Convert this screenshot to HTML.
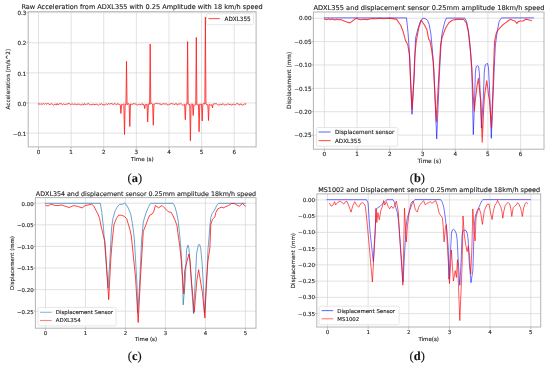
<!DOCTYPE html>
<html><head><meta charset="utf-8"><title>Figure</title>
<style>
html,body{margin:0;padding:0;background:#fff;}
body{width:550px;height:365px;overflow:hidden;}
svg{display:block;filter:blur(0.3px);}
svg text{text-rendering:geometricPrecision;font-family:"DejaVu Sans", "Liberation Sans", sans-serif;fill:#222222;stroke:#222222;stroke-width:0.12px;}
svg text.pl{font-family:"Liberation Serif","DejaVu Serif",serif;font-size:12.4px;fill:#111;}
</style></head><body>
<svg width="550" height="365" viewBox="0 0 550 365">
<rect width="550" height="365" fill="#fff"/>
<path d="M38.5 11.7V146.9M71.12 11.7V146.9M103.73 11.7V146.9M136.35 11.7V146.9M168.97 11.7V146.9M201.58 11.7V146.9M234.2 11.7V146.9M28.2 12.7H256.1M28.2 42.8H256.1M28.2 72.9H256.1M28.2 103H256.1M28.2 133.1H256.1" stroke="#d6d6d6" stroke-width="0.7" fill="none"/>
<path d="M38.3 104 39.2 103.71 40.1 104.56 41 103.57 41.9 104.36 42.8 104.07 43.7 103.55 44.6 104.31 45.5 103.51 46.4 104.19 47.3 103.57 48.2 103.6 49.1 104.17 50 104.86 50.9 103.66 51.8 103.83 52.7 104.52 53.6 105.06 54.5 104.43 55.4 104.12 56.3 105.11 57.2 103.53 58.1 104.91 59 103.94 59.9 103.7 60.8 103.65 61.7 103.97 62.6 104.84 63.5 103.76 64.4 104.44 65.3 104.54 66.2 104.08 67.1 104.38 68 103.56 68.9 103.55 69.8 103.8 70.7 104.61 71.6 104.18 72.5 103.98 73.4 104.45 74.3 104.22 75.2 103.96 76.1 104.8 77 104.64 77.9 103.86 78.8 104.43 79.7 104.34 80.6 104.94 81.5 104.69 82.4 103.94 83.3 105.12 84.2 103.65 85.1 104.16 86 104.74 86.9 103.71 87.8 104.28 88.7 103.52 89.6 104.59 90.5 104.75 91.4 104.42 92.3 104.94 93.2 103.98 94.1 104.63 95 104.46 95.9 104.44 96.8 104.23 97.7 104.88 98.6 105.06 99.5 104.26 100.4 104.58 101.3 103.55 102.2 104.64 103.1 104.55 104 105.14 104.9 104.85 105.8 103.93 106.7 104.11 107.6 104.59 108.5 103.49 109.4 104.23 110.3 103.74 111.2 103.65 112.1 103.55 113 104.76 113.9 103.67 114.8 103.87 115.7 104.11 116.6 104.93 117.5 103.59 118.4 104.21 119.3 104.38 120.25 104.68 120.9 113.5 121.55 104.62 122.35 104.92 123.25 103.92 123.85 104.22 124.5 134.5 125.15 104.16 125.95 104.68 126.5 61.4 127.05 104.76 127.85 103.71 128.75 103.75 129.15 104.03 129.8 126.5 130.45 104.03 131.25 104.27 132.15 104.45 133.05 103.9 133.95 103.46 134.85 104.16 135.75 104.08 136.65 104.41 137.55 105.07 138.45 104.62 139.35 104.33 140.25 104.5 141.15 104.6 142.05 103.54 142.95 104.98 144.05 104.58 144.7 108.6 145.35 104.67 146.15 104.81 147.05 104.19 147.7 121.9 148.35 104.2 149.15 103.63 149.65 104.43 150.2 44 150.75 103.86 151.55 103.56 152.65 104.01 153.3 125.2 153.95 103.96 154.75 104.03 155.65 103.54 156.55 103.45 157.45 103.71 158.35 103.62 159.25 104.07 160.15 103.49 161.05 104.94 161.95 104.49 162.85 103.7 163.75 103.88 164.65 104.04 165.55 104.07 166.45 103.66 167.35 104.89 168.25 105.14 169.15 104.24 170.05 104.27 170.95 103.6 171.85 103.62 172.75 104.03 173.65 103.9 174.55 104.86 175.45 103.72 176.35 103.49 177.25 105.07 178.15 104.35 179.05 103.7 179.95 104.37 180.85 103.5 181.75 104.35 182.65 105.11 183.55 104.92 184.65 104.5 185.3 119.7 185.95 104.06 187.05 104.17 187.6 41.5 188.15 103.97 188.95 104.76 189.75 104.33 190.4 140.8 191.05 104.58 191.85 104.01 192.55 104.02 193.2 115.5 193.85 104.61 194.65 105.12 195.75 104.65 196.3 37.4 196.85 104.61 197.65 104.84 198.45 104.54 199.1 131.7 199.75 104.03 200.55 104.33 201.55 104.16 202.2 120.9 202.85 103.83 203.65 103.5 204.85 104.08 205.4 17.1 205.95 104.06 206.75 104.63 207.85 104.76 208.5 120.5 209.15 104.25 209.95 105.04 210.85 105.13 211.9 104.76 212.5 107.8 213.1 104.16 213.9 103.82 214.8 103.84 215.7 103.78 216.6 103.8 217.5 104.51 218.4 104.98 219.3 104.88 220.2 104.27 221.1 104.56 222 104.81 222.9 103.59 223.8 104.57 224.7 105 225.6 104.78 226.5 104.73 227.4 104.26 228.3 103.75 229.2 104.79 230.1 104.02 231 104.81 231.9 105.1 232.8 104.12 233.7 104.13 234.6 105.06 235.5 104.68 236.4 103.74 237.3 103.67 238.2 103.71 239.1 104.99 240 104.82 240.9 103.7 241.8 104.86 242.7 105.12 243.6 104.57 244.5 104.05 245.4 104.38 245.6 103.6" stroke="#ff2020" stroke-width="0.95" fill="none" stroke-linejoin="round" stroke-linecap="round" opacity="0.9"/>
<path d="M38.5 146.9v1.8M71.12 146.9v1.8M103.73 146.9v1.8M136.35 146.9v1.8M168.97 146.9v1.8M201.58 146.9v1.8M234.2 146.9v1.8M28.2 12.7h-1.8M28.2 42.8h-1.8M28.2 72.9h-1.8M28.2 103h-1.8M28.2 133.1h-1.8" stroke="#8a8a8a" stroke-width="0.6" fill="none"/>
<rect x="28.2" y="11.7" width="227.9" height="135.2" fill="none" stroke="#b4b4b4" stroke-width="1"/>
<text x="38.5" y="153.9" font-size="5.6" text-anchor="middle">0</text>
<text x="71.12" y="153.9" font-size="5.6" text-anchor="middle">1</text>
<text x="103.73" y="153.9" font-size="5.6" text-anchor="middle">2</text>
<text x="136.35" y="153.9" font-size="5.6" text-anchor="middle">3</text>
<text x="168.97" y="153.9" font-size="5.6" text-anchor="middle">4</text>
<text x="201.58" y="153.9" font-size="5.6" text-anchor="middle">5</text>
<text x="234.2" y="153.9" font-size="5.6" text-anchor="middle">6</text>
<text x="26.4" y="15.33" font-size="5.6" text-anchor="end">0.3</text>
<text x="26.4" y="45.43" font-size="5.6" text-anchor="end">0.2</text>
<text x="26.4" y="75.53" font-size="5.6" text-anchor="end">0.1</text>
<text x="26.4" y="105.63" font-size="5.6" text-anchor="end">0.0</text>
<text x="26.4" y="135.73" font-size="5.6" text-anchor="end">−0.1</text>
<text x="142" y="9.2" font-size="6.55" text-anchor="middle">Raw Acceleration from ADXL355 with 0.25 Amplitude with 18 km/h speed</text>
<text x="142.4" y="161" font-size="5.55" text-anchor="middle">Time (s)</text>
<text transform="translate(9.7 79.2) rotate(-90)" font-size="5.72" text-anchor="middle">Acceleration (m/s^2)</text>
<rect x="206.6" y="13.7" width="47" height="11" rx="1.2" fill="#fff" fill-opacity="0.85" stroke="#dcdcdc" stroke-width="0.7"/>
<path d="M208.5 18.6H219.8" stroke="#ff2020" stroke-width="1.1" opacity="0.75"/>
<text x="224.5" y="20.65" font-size="5.7">ADXL355</text>
<text x="127.6" y="182.2" class="pl">(<tspan font-weight="bold">a</tspan>)</text>
<path d="M324.4 12V149.2M357.1 12V149.2M389.8 12V149.2M422.5 12V149.2M455.2 12V149.2M487.9 12V149.2M520.6 12V149.2M313.4 18.2H544M313.4 41.58H544M313.4 64.96H544M313.4 88.34H544M313.4 111.72H544M313.4 135.1H544" stroke="#d6d6d6" stroke-width="0.7" fill="none"/>
<path d="M324.4 17.9 406.5 17.9 408.1 33.4 409.8 58 412 114.3 414.4 72 415.5 38.3 418 28.5 420.5 21 422.9 18.2 425 18.5 427.5 20.2 429.1 24.3 430.8 33.4 432.4 49.9 434 72 436.7 138.9 439.5 72 441.5 36.7 443.1 28.5 444.8 21.9 446.4 18.1 464.7 18.1 466.5 21.3 468.4 30.7 469.7 41.9 470.8 54.9 471.8 68 473.3 134.6 474.6 100 475.4 72 476.2 66.5 477.6 65.8 478.6 66.5 479.5 75 481.4 128 483.2 100 484.3 72 485.2 65 486.4 64 487.6 63.5 488.5 68 489.4 85 491.3 138.3 492.8 102 494.6 60 495.4 45 497.2 31.8 499.1 21.6 501 18.3 502 17.9 533.5 17.9" stroke="#0000ff" stroke-width="0.9" fill="none" stroke-linejoin="round" stroke-linecap="round" opacity="0.65"/>
<path d="M324.4 19 326.5 19.8 328.5 18.9 330.5 19.6 332.5 19 334.5 20 336.5 19.3 338.5 19.8 340.5 19.6 343 20.4 346 21.8 349.8 22.9 352.5 21 356.4 18.1 358.5 19.2 361 19.8 364 19.3 367 19.6 370 19 373 18.5 376 18.8 380 18.3 384 18.7 389.1 18.2 393 18.6 396.6 19.4 400.7 25.2 403.2 31.8 405.6 40.8 407.8 44.9 409.4 54.8 410.5 80.6 412 109.4 413.8 80 414.7 57.3 416.3 40.8 418.8 27.6 421.3 20.2 424.6 25.2 427 30.1 428.7 39.2 430 40.8 431.6 49.9 433.2 61.4 436.3 121.7 439 72 440.6 44.9 442.3 36.7 444.8 30.1 446.4 26.8 448.9 22.7 452.2 20.2 456.3 19.4 461.2 19.4 463.7 19.5 466.5 23.2 468.4 32.5 470.3 49.3 471.7 68 473.2 95 474.3 111 475.3 100 476.3 92 477 86 478.4 78.4 479.4 88 480.2 96 480.9 100 482.2 142.2 483.6 110 484.3 98 485.3 90 486.7 80.7 487.8 88 488.6 96 489.5 100 491.5 128 492.8 92.2 494.5 41.9 496.4 32.5 497.8 30.5 500.4 27.4 502.9 24.8 505.5 22.9 508 21 510.5 19.3 513.1 20.4 515 21 516.9 23.5 518.2 21.6 520.7 21 523.3 21 525.8 19.1 528.4 19.7 531.5 20.7" stroke="#ff0000" stroke-width="1.1" fill="none" stroke-linejoin="round" stroke-linecap="round" opacity="0.75"/>
<path d="M324.4 149.2v1.8M357.1 149.2v1.8M389.8 149.2v1.8M422.5 149.2v1.8M455.2 149.2v1.8M487.9 149.2v1.8M520.6 149.2v1.8M313.4 18.2h-1.8M313.4 41.58h-1.8M313.4 64.96h-1.8M313.4 88.34h-1.8M313.4 111.72h-1.8M313.4 135.1h-1.8" stroke="#8a8a8a" stroke-width="0.6" fill="none"/>
<rect x="313.4" y="12" width="230.6" height="137.2" fill="none" stroke="#b4b4b4" stroke-width="1"/>
<text x="324.4" y="156.2" font-size="5.7" text-anchor="middle">0</text>
<text x="357.1" y="156.2" font-size="5.7" text-anchor="middle">1</text>
<text x="389.8" y="156.2" font-size="5.7" text-anchor="middle">2</text>
<text x="422.5" y="156.2" font-size="5.7" text-anchor="middle">3</text>
<text x="455.2" y="156.2" font-size="5.7" text-anchor="middle">4</text>
<text x="487.9" y="156.2" font-size="5.7" text-anchor="middle">5</text>
<text x="520.6" y="156.2" font-size="5.7" text-anchor="middle">6</text>
<text x="311.6" y="20.37" font-size="5.7" text-anchor="end">0.00</text>
<text x="311.6" y="43.75" font-size="5.7" text-anchor="end">−0.05</text>
<text x="311.6" y="67.13" font-size="5.7" text-anchor="end">−0.10</text>
<text x="311.6" y="90.51" font-size="5.7" text-anchor="end">−0.15</text>
<text x="311.6" y="113.89" font-size="5.7" text-anchor="end">−0.20</text>
<text x="311.6" y="137.27" font-size="5.7" text-anchor="end">−0.25</text>
<text x="429" y="9.5" font-size="6.65" text-anchor="middle">ADXL355 and displacement sensor 0.25mm amplitude 18km/h speed</text>
<text x="429.3" y="162.9" font-size="5.85" text-anchor="middle">Time (s)</text>
<text transform="translate(291.2 80.4) rotate(-90)" font-size="5.75" text-anchor="middle">Displacement (mm)</text>
<rect x="316.5" y="127.5" width="81.2" height="18.7" rx="1.2" fill="#fff" fill-opacity="0.85" stroke="#dcdcdc" stroke-width="0.7"/>
<path d="M318.5 132H330.6" stroke="#3344ff" stroke-width="1.1" opacity="0.75"/>
<text x="335" y="134.03" font-size="5.65">Displacement sensor</text>
<path d="M318.5 140.6H330.6" stroke="#ff2020" stroke-width="1.1" opacity="0.75"/>
<text x="335" y="142.63" font-size="5.65">ADXL355</text>
<text x="409.8" y="182.2" class="pl">(<tspan font-weight="bold">b</tspan>)</text>
<path d="M45.5 197.6V328.2M85.48 197.6V328.2M125.46 197.6V328.2M165.44 197.6V328.2M205.42 197.6V328.2M245.4 197.6V328.2M35.4 203.2H256M35.4 224.8H256M35.4 246.4H256M35.4 268H256M35.4 289.6H256M35.4 311.2H256" stroke="#d6d6d6" stroke-width="0.7" fill="none"/>
<path d="M45.1 203.3 100.4 203.3 101.8 212.5 103.3 226 105.5 255 108 288.2 110.2 255 111.1 236 111.6 227.9 112.9 218.7 115.2 210.6 117.5 206.6 119.8 204.3 122.1 204.3 124.7 203.2 126.1 204.3 128.4 208.3 130.7 214.1 132.4 223.3 133.6 232.5 134.4 240 137.1 286 137.8 312.8 139.5 286 141.6 240 143.3 222.1 145.6 214.1 147.9 208.3 150.2 203.7 151.4 203.3 173 203.3 174.7 206 176.4 211.8 178.2 221 179.3 231.3 180.5 243.7 181.8 261.5 183.2 304.9 185.3 280 186.6 249.2 188 245.1 189 249.2 190.1 264.2 191.2 280 193.5 313.8 195.3 280 196.6 253.3 198.3 245.1 199.7 244.4 200.8 249.2 202.1 262.9 203.1 280 204.5 313.1 206.8 280 207.9 250.5 209.2 235.5 209.6 229.1 210.8 217.6 212.1 213.5 214.2 210.7 215.9 207.2 217.1 204.9 218.6 203.3 245.3 203.3" stroke="#1f77b4" stroke-width="0.85" fill="none" stroke-linejoin="round" stroke-linecap="round" opacity="0.78"/>
<path d="M45.8 205.3 48 206 50.9 204.1 54.5 205.3 57.5 205.6 61.8 205 64.7 206 69.1 207.5 73.5 205.6 77.8 206.4 82.2 207.9 85.1 205.6 88 205 91.6 204.1 93.8 206 96 210.4 98.2 214.7 99.6 218.4 101 226 105 242 108.7 299.6 110.9 257.4 112.3 240 114 224.4 116.3 218.7 118.6 215.2 121.5 215.2 124.4 216.4 126.7 218.7 128.4 224.4 130.1 230.2 131.3 236 135.5 277 138.2 322.5 140.5 277 143.3 231.3 145.6 225.6 147.9 219.3 149.7 215.2 152 214.1 153.7 211.8 155.4 205.5 158.6 207.8 162.1 205.5 164.9 208.3 168.4 211.8 171.3 212.4 173 215.8 175.3 221 177 225.6 177.8 232.5 179.8 246.4 181.2 260.1 183.9 293.9 184.6 271.1 187.3 260.1 189 254 190.1 261.5 191.4 280 194.2 312.4 196.9 280 198.6 269.7 200.3 280 202.4 292.5 204.9 317.9 206.5 280 207.9 261.5 209.9 247.8 210.8 224.5 212.5 219.3 214.8 217 215.9 212.4 217.7 208.9 220 207.8 221.7 207.2 223.4 207.8 225.7 206.6 228.6 205.5 231.5 203.5 234.3 203.5 236.6 204.9 239.5 206.1 242.4 203.5 244.1 205.1 245.5 206.3" stroke="#ff0000" stroke-width="1.0" fill="none" stroke-linejoin="round" stroke-linecap="round" opacity="0.75"/>
<path d="M45.5 328.2v1.8M85.48 328.2v1.8M125.46 328.2v1.8M165.44 328.2v1.8M205.42 328.2v1.8M245.4 328.2v1.8M35.4 203.2h-1.8M35.4 224.8h-1.8M35.4 246.4h-1.8M35.4 268h-1.8M35.4 289.6h-1.8M35.4 311.2h-1.8" stroke="#8a8a8a" stroke-width="0.6" fill="none"/>
<rect x="35.4" y="197.6" width="220.6" height="130.6" fill="none" stroke="#b4b4b4" stroke-width="1"/>
<text x="45.5" y="335.2" font-size="5.4" text-anchor="middle">0</text>
<text x="85.48" y="335.2" font-size="5.4" text-anchor="middle">1</text>
<text x="125.46" y="335.2" font-size="5.4" text-anchor="middle">2</text>
<text x="165.44" y="335.2" font-size="5.4" text-anchor="middle">3</text>
<text x="205.42" y="335.2" font-size="5.4" text-anchor="middle">4</text>
<text x="245.4" y="335.2" font-size="5.4" text-anchor="middle">5</text>
<text x="33.6" y="205.68" font-size="5.4" text-anchor="end">0.00</text>
<text x="33.6" y="227.28" font-size="5.4" text-anchor="end">−0.05</text>
<text x="33.6" y="248.88" font-size="5.4" text-anchor="end">−0.10</text>
<text x="33.6" y="270.48" font-size="5.4" text-anchor="end">−0.15</text>
<text x="33.6" y="292.08" font-size="5.4" text-anchor="end">−0.20</text>
<text x="33.6" y="313.68" font-size="5.4" text-anchor="end">−0.25</text>
<text x="146" y="195.5" font-size="6.33" text-anchor="middle">ADXL354 and displacement sensor 0.25mm amplitude 18km/h speed</text>
<text x="146" y="341.3" font-size="5.45" text-anchor="middle">Time (s)</text>
<text transform="translate(13.8 263) rotate(-90)" font-size="5.45" text-anchor="middle">Displacement (mm)</text>
<rect x="38.1" y="307.4" width="78" height="18.5" rx="1.2" fill="#fff" fill-opacity="0.85" stroke="#dcdcdc" stroke-width="0.7"/>
<path d="M40 312.3H51.7" stroke="#1f77b4" stroke-width="1.1" opacity="0.5"/>
<text x="55.8" y="314.24" font-size="5.4">Displacement Sensor</text>
<path d="M40 320.5H51.7" stroke="#ff2020" stroke-width="1.1" opacity="0.55"/>
<text x="55.8" y="322.44" font-size="5.4">ADXL354</text>
<text x="127.8" y="360" class="pl">(<tspan font-weight="bold">c</tspan>)</text>
<path d="M327.5 193.9V327M368.16 193.9V327M408.82 193.9V327M449.48 193.9V327M490.14 193.9V327M530.8 193.9V327M316.8 199.9H540.7M316.8 216.14H540.7M316.8 232.39H540.7M316.8 248.63H540.7M316.8 264.87H540.7M316.8 281.11H540.7M316.8 297.36H540.7M316.8 313.6H540.7" stroke="#d6d6d6" stroke-width="0.7" fill="none"/>
<path d="M326.9 199.7 366.4 199.7 368.1 202.8 368.9 215.9 370 231.3 373.3 261.6 375.3 228 376.2 209.4 377.6 207.7 379.8 206.6 381.4 205 383.6 202.8 385.8 200.6 386.9 199.7 393 199.7 394.1 201.7 395.7 207.2 397.3 212.6 398.4 220.3 399.2 228 403 281.9 406.1 226.9 407.2 218.1 409.4 211.5 411.6 205 413.2 201.7 414.9 199.6 440.6 199.6 442.3 202.2 443.9 207.7 445 215.9 446.1 224.7 446.6 228.2 448.2 247.4 449 279.2 450.6 250 451.5 233 452.3 230 453.4 229.3 455 230.5 456.4 234 457.2 240 458.2 260 459.8 285.3 461.2 260 462 236 462.7 231 463.9 230.2 466 230.5 467.3 233.5 468.2 240 469.2 262 471 282.7 472.9 270 474.2 226.7 475.4 216 477.2 210.7 479 207.1 481.7 200.9 483 199.6 530.4 199.6" stroke="#0000ff" stroke-width="0.9" fill="none" stroke-linejoin="round" stroke-linecap="round" opacity="0.62"/>
<path d="M329.5 203.3 331.3 206.3 333 205 334.6 201.7 335.7 205 337.4 202.6 340.1 201.1 342.3 202.8 343.9 204.1 345.6 201.5 347.2 201.7 348.9 206.1 351.1 212.1 352.7 206.1 354.7 201.7 356.5 205 358.7 207.2 360.9 203.3 362.6 202.6 364.2 203.9 365.3 206.1 366.4 215.9 367.5 226.9 372.4 282 375.1 234 376 208.3 376.8 222.5 377.9 212.6 379.3 219.8 380.9 210.4 382.5 206.1 383.6 200.6 384.7 205 386.4 201.7 388 206.1 389.7 208.8 391.3 206.1 393 208.3 394.6 206.1 396.3 201.1 397.3 206.1 398.4 212.6 399.2 230 402.9 285.2 404.5 208.2 406.3 242 407.4 226 409.4 210.4 411 203.3 412.1 201.7 413.2 201.1 414.3 205 415.4 209.9 417.3 212.1 418.7 207.2 420.4 204.4 422.5 201.7 423.6 200.6 425.3 205 426.9 203.3 428.6 202.8 430.2 201.7 431.9 203.3 433.5 202.2 435.7 200.6 437.3 205 439 212.6 440.6 215.4 442.3 217.6 443 224.1 444.1 241.9 445.5 226.8 446.4 224.7 447.1 240.5 449.5 283.6 451.4 250 453.4 281 455.2 270.6 456.4 277.5 457.5 259.7 459.8 320.6 462.1 265 463 216 464.2 233.8 465.7 244.4 467.1 251.6 468.3 246.2 469.6 256.9 470.7 274.1 471.9 248 472.8 208.9 474.2 232 475.1 240.9 476 217.8 477.8 210.7 479 208 480.8 213.3 482.4 224.4 484.3 210.7 487 204.4 489 204 490.4 211.8 492.1 219.6 493.4 210.8 494.9 205.3 496.3 203.4 497.6 200.4 499.3 203.9 500.8 206.8 502 211.8 502.8 218.2 503.9 210.8 505.2 205.8 506.9 203.4 508.2 202.4 509.7 203.9 510.8 208.8 511.8 216.5 513.1 207.8 514.6 206.3 516.4 204.8 517.5 202.7 519 204.4 520.5 207.8 521.5 211.8 522.3 216.5 523.7 207.8 525.2 203.4 526.4 202.4 527.7 203.6" stroke="#ff0000" stroke-width="1.0" fill="none" stroke-linejoin="round" stroke-linecap="round" opacity="0.65"/>
<path d="M327.5 327v1.8M368.16 327v1.8M408.82 327v1.8M449.48 327v1.8M490.14 327v1.8M530.8 327v1.8M316.8 199.9h-1.8M316.8 216.14h-1.8M316.8 232.39h-1.8M316.8 248.63h-1.8M316.8 264.87h-1.8M316.8 281.11h-1.8M316.8 297.36h-1.8M316.8 313.6h-1.8" stroke="#8a8a8a" stroke-width="0.6" fill="none"/>
<rect x="316.8" y="193.9" width="223.9" height="133.1" fill="none" stroke="#b4b4b4" stroke-width="1"/>
<text x="327.5" y="333.6" font-size="5.55" text-anchor="middle">0</text>
<text x="368.16" y="333.6" font-size="5.55" text-anchor="middle">1</text>
<text x="408.82" y="333.6" font-size="5.55" text-anchor="middle">2</text>
<text x="449.48" y="333.6" font-size="5.55" text-anchor="middle">3</text>
<text x="490.14" y="333.6" font-size="5.55" text-anchor="middle">4</text>
<text x="530.8" y="333.6" font-size="5.55" text-anchor="middle">5</text>
<text x="315" y="202.01" font-size="5.55" text-anchor="end">0.00</text>
<text x="315" y="218.25" font-size="5.55" text-anchor="end">−0.05</text>
<text x="315" y="234.49" font-size="5.55" text-anchor="end">−0.10</text>
<text x="315" y="250.74" font-size="5.55" text-anchor="end">−0.15</text>
<text x="315" y="266.98" font-size="5.55" text-anchor="end">−0.20</text>
<text x="315" y="283.22" font-size="5.55" text-anchor="end">−0.25</text>
<text x="315" y="299.47" font-size="5.55" text-anchor="end">−0.30</text>
<text x="315" y="315.71" font-size="5.55" text-anchor="end">−0.35</text>
<text x="429.1" y="191.6" font-size="6.46" text-anchor="middle">MS1002 and Displacement sensor 0.25mm amplitude 18km/h speed</text>
<text x="428.7" y="340.7" font-size="5.5" text-anchor="middle">Time(s)</text>
<text transform="translate(295 260.6) rotate(-90)" font-size="5.57" text-anchor="middle">Displacement (mm)</text>
<rect x="319.1" y="306.2" width="80.1" height="18.5" rx="1.2" fill="#fff" fill-opacity="0.85" stroke="#dcdcdc" stroke-width="0.7"/>
<path d="M321.6 310.6H333.2" stroke="#3344ff" stroke-width="1.1" opacity="0.75"/>
<text x="337.3" y="312.56" font-size="5.45">Displacement Sensor</text>
<path d="M321.6 318.8H333.2" stroke="#ff2020" stroke-width="1.1" opacity="0.6"/>
<text x="337.3" y="320.76" font-size="5.45">MS1002</text>
<text x="409.6" y="360" class="pl">(<tspan font-weight="bold">d</tspan>)</text>
</svg>
</body></html>
